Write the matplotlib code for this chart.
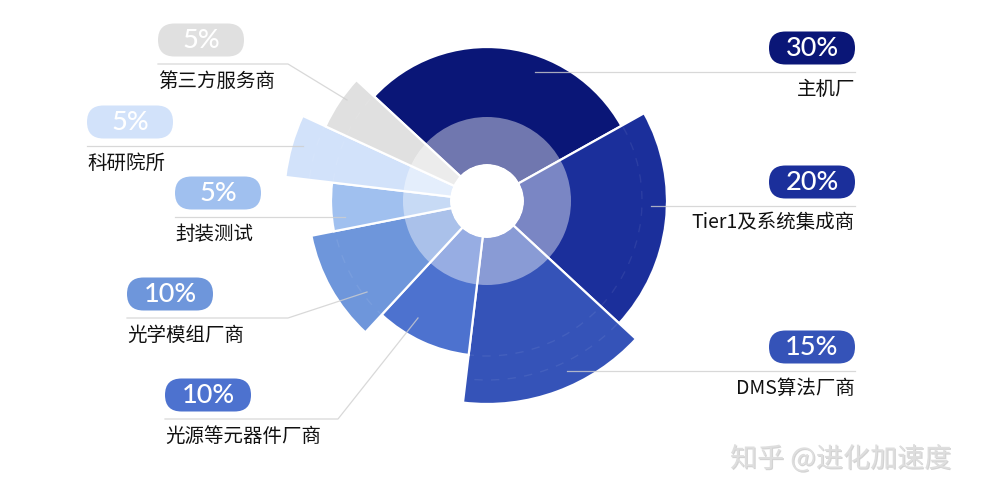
import matplotlib
matplotlib.use("Agg")
import matplotlib.pyplot as plt
from matplotlib.patches import Wedge, Circle, FancyBboxPatch
import matplotlib.patheffects as pe

plt.rcParams['font.family'] = ['Noto Sans CJK SC', 'DejaVu Sans']

# data, clockwise from the top-left edge of 主机厂
labels = ['主机厂', 'Tier1及系统集成商', 'DMS算法厂商', '光源等元器件厂商',
          '光学模组厂商', '封装测试', '科研院所', '第三方服务商']
shares = [30, 20, 15, 10, 10, 5, 5, 5]
radius = [154, 180, 203, 155, 179, 156, 203, 178]   # outer radius of each petal
colors = ['#0a1677', '#1b2f9b', '#3553b8', '#4d72cf',
          '#6e96db', '#a0c0ef', '#d2e2fa', '#e0e0e0']

# layout (pixels, image coordinates)
cx, cy = 487, 201
hole_r = 37
ring_r = 84
start = 137.2
# side, pill edge x, separator y, elbow x, anchor inside petal
label_pos = [
    ('r', 855, 72, 535, (535, 72)),
    ('r', 855, 206, 651, (651, 206)),
    ('r', 855, 371, 567, (567, 371)),
    ('l', 165, 419, 338, (418, 318)),
    ('l', 127, 318, 288, (367, 292)),
    ('l', 175, 217, 345, (345, 217)),
    ('l', 87, 146, 303, (303, 146)),
    ('l', 158, 64, 288, (347, 100)),
]
pill_w, pill_h = 86, 33

fig = plt.figure(figsize=(10, 5), dpi=100)
ax = fig.add_axes([0, 0, 1, 1])
ax.set_xlim(0, 1000)
ax.set_ylim(500, 0)
ax.axis('off')

# petals (y axis is inverted, so data angle = -screen angle)
theta = -start
for s, r, c in zip(shares, radius, colors):
    t2 = theta + s * 3.6
    ax.add_patch(Wedge((cx, cy), r, theta, t2, facecolor=c,
                       edgecolor='white', linewidth=1.6, zorder=2))
    theta = t2

# faint dashed grid circles, only visible on the petals
for gr in [155, 179]:
    ax.add_patch(Circle((cx, cy), gr, fill=False, edgecolor='white',
                        alpha=0.07, linewidth=1, linestyle=(0, (6, 6)), zorder=3))

# lighter inner ring and hole
ax.add_patch(Wedge((cx, cy), ring_r, 0, 360, width=ring_r - hole_r,
                   facecolor='white', alpha=0.42, edgecolor='none', zorder=4))
ax.add_patch(Circle((cx, cy), hole_r, facecolor='white', edgecolor='none', zorder=5))

# labels
for lab, s, c, (side, ex, ly, elx, anc) in zip(labels, shares, colors, label_pos):
    if side == 'r':
        xs = [anc[0], ex]
        ys = [anc[1], ly]
        px = ex - pill_w
        ha, tx = 'right', ex
    else:
        xs = [ex, elx, anc[0]]
        ys = [ly, ly, anc[1]]
        px = ex
        ha, tx = 'left', ex
    ax.plot(xs, ys, color='#cfcfcf', linewidth=0.9, alpha=0.8, zorder=6)
    ax.add_patch(FancyBboxPatch((px, ly - 24 - pill_h / 2), pill_w, pill_h,
                                boxstyle='round,pad=0,rounding_size=16.5',
                                facecolor=c, edgecolor='none', zorder=6))
    ax.text(px + pill_w / 2, ly - 23.5, f'{s}%', color='white', fontsize=19.5,
            family=['Lato', 'DejaVu Sans'], weight='medium',
            ha='center', va='center', zorder=7)
    ax.text(tx, ly + 17, lab, color='#111111', fontsize=14, weight='medium',
            ha=ha, va='center', zorder=7)

# watermark
ax.text(730, 459, '知乎 @进化加速度', color='#dedede', fontsize=19.5, ha='left', va='center',
        path_effects=[pe.withSimplePatchShadow(offset=(0.8, -0.8), shadow_rgbFace='#a8a8a8', alpha=0.5)])

fig.savefig('out.png', dpi=100)
